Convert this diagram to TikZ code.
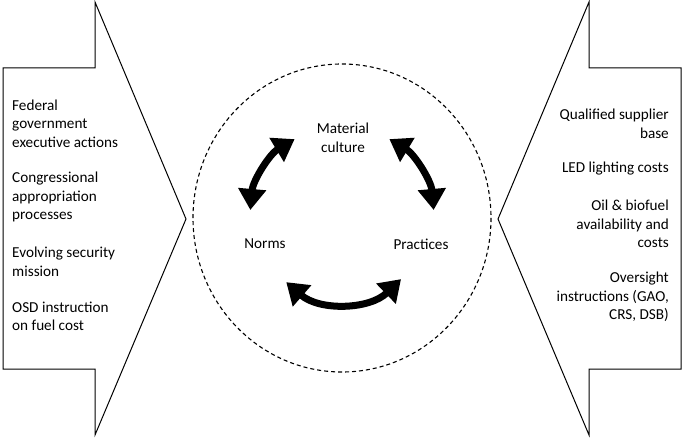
\documentclass[tikz,border=0pt]{standalone}
\usepackage{fontspec}
\setmainfont{Carlito}
\usetikzlibrary{arrows.meta}
\begin{document}
\begin{tikzpicture}[x=1pt,y=-1pt,
  txt/.style={font=\fontsize{15.2}{18.5}\selectfont, inner sep=0pt},
  sideshape/.style={draw=black, line width=1pt, line join=miter},
  ring/.style={draw=black, line width=1.1pt, dash pattern=on 4pt off 3pt},
  cyc/.style={line width=7pt, {Triangle[length=21pt,width=27pt]}-{Triangle[length=21pt,width=27pt]}}]
\useasboundingbox (0,0) rectangle (685,438);
\fill[white] (0,0) rectangle (685,438);
% side arrows
\draw[sideshape] (3,68) -- (95,68) -- (95,2) -- (186,219) -- (95,435) -- (95,369) -- (3,369) -- cycle;
\draw[sideshape] (681,68) -- (589,68) -- (589,2) -- (498,219) -- (589,435) -- (589,369) -- (681,369) -- cycle;
% dashed circle
\coordinate (c) at (342,218);
\draw[ring] (c) ellipse [x radius=149, y radius=154];
% left texts
\node[txt, anchor=west, align=left] (l1) at (12,123.5) {Federal\\government\\executive actions};
\node[txt, anchor=west, align=left] (l2) at (12,197) {Congressional\\appropriation\\processes};
\node[txt, anchor=west, align=left] (l3) at (12,262) {Evolving security\\mission};
\node[txt, anchor=west, align=left] (l4) at (12,316.5) {OSD instruction\\on fuel cost};
% right texts
\node[txt, anchor=east, align=right] (r1) at (669,124) {Qualified supplier\\base};
\node[txt, anchor=east, align=right] (r2) at (669,169) {LED lighting costs};
\node[txt, anchor=east, align=right] (r3) at (669,224) {Oil \& biofuel\\availability and\\costs};
\node[txt, anchor=east, align=right] (r4) at (669,297) {Oversight\\instructions (GAO,\\CRS, DSB)};
% centre texts
\node[txt, align=center] (mat) at (343,138) {Material\\culture};
\node[txt] (norms) at (265,244) {Norms};
\node[txt] (prac) at (421,244) {Practices};
% cycle arrows
\draw[cyc] (c) ++(185:92) arc[start angle=185, end angle=239, radius=92];
\draw[cyc] (c) ++(301:92) arc[start angle=301, end angle=355, radius=92];
\draw[cyc] (c) ++(46:85) arc[start angle=46, end angle=131, radius=85];
\end{tikzpicture}
\end{document}
